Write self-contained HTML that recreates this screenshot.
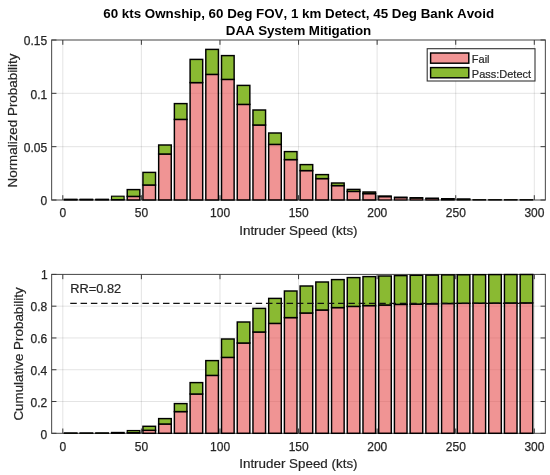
<!DOCTYPE html>
<html><head><meta charset="utf-8"><title>DAA System Mitigation</title>
<style>
html,body{margin:0;padding:0;background:#fff;}
body{width:550px;height:475px;overflow:hidden;}
svg{display:block;}
text{font-kerning:none;font-family:"Liberation Sans",sans-serif;fill:#262626;}
.t{font-size:12px;stroke:#262626;stroke-width:0.25px;}
.l{font-size:13.4px;stroke:#262626;stroke-width:0.2px;}
.r{font-size:12.8px;stroke:#262626;stroke-width:0.2px;}
.g{font-size:11px;stroke:#262626;stroke-width:0.2px;}
.h{font-size:13.35px;font-weight:bold;fill:#000;}
</style></head><body>
<svg width="550" height="475" viewBox="0 0 550 475">
<rect width="550" height="475" fill="#fff"/>
<line x1="62.8" y1="40" x2="62.8" y2="200" stroke="#262626" stroke-opacity="0.125" stroke-width="1"/>
<line x1="141.38" y1="40" x2="141.38" y2="200" stroke="#262626" stroke-opacity="0.125" stroke-width="1"/>
<line x1="219.97" y1="40" x2="219.97" y2="200" stroke="#262626" stroke-opacity="0.125" stroke-width="1"/>
<line x1="298.56" y1="40" x2="298.56" y2="200" stroke="#262626" stroke-opacity="0.125" stroke-width="1"/>
<line x1="377.14" y1="40" x2="377.14" y2="200" stroke="#262626" stroke-opacity="0.125" stroke-width="1"/>
<line x1="455.73" y1="40" x2="455.73" y2="200" stroke="#262626" stroke-opacity="0.125" stroke-width="1"/>
<line x1="534.31" y1="40" x2="534.31" y2="200" stroke="#262626" stroke-opacity="0.125" stroke-width="1"/>
<line x1="51.65" y1="146.67" x2="545.35" y2="146.67" stroke="#262626" stroke-opacity="0.125" stroke-width="1"/>
<line x1="51.65" y1="93.33" x2="545.35" y2="93.33" stroke="#262626" stroke-opacity="0.125" stroke-width="1"/>
<rect x="51.65" y="40" width="493.7" height="160" fill="none" stroke="#454545" stroke-width="1"/>
<line x1="62.8" y1="200" x2="62.8" y2="195.2" stroke="#3a3a3a" stroke-width="1"/>
<line x1="62.8" y1="40" x2="62.8" y2="44.8" stroke="#3a3a3a" stroke-width="1"/>
<line x1="141.38" y1="200" x2="141.38" y2="195.2" stroke="#3a3a3a" stroke-width="1"/>
<line x1="141.38" y1="40" x2="141.38" y2="44.8" stroke="#3a3a3a" stroke-width="1"/>
<line x1="219.97" y1="200" x2="219.97" y2="195.2" stroke="#3a3a3a" stroke-width="1"/>
<line x1="219.97" y1="40" x2="219.97" y2="44.8" stroke="#3a3a3a" stroke-width="1"/>
<line x1="298.56" y1="200" x2="298.56" y2="195.2" stroke="#3a3a3a" stroke-width="1"/>
<line x1="298.56" y1="40" x2="298.56" y2="44.8" stroke="#3a3a3a" stroke-width="1"/>
<line x1="377.14" y1="200" x2="377.14" y2="195.2" stroke="#3a3a3a" stroke-width="1"/>
<line x1="377.14" y1="40" x2="377.14" y2="44.8" stroke="#3a3a3a" stroke-width="1"/>
<line x1="455.73" y1="200" x2="455.73" y2="195.2" stroke="#3a3a3a" stroke-width="1"/>
<line x1="455.73" y1="40" x2="455.73" y2="44.8" stroke="#3a3a3a" stroke-width="1"/>
<line x1="534.31" y1="200" x2="534.31" y2="195.2" stroke="#3a3a3a" stroke-width="1"/>
<line x1="534.31" y1="40" x2="534.31" y2="44.8" stroke="#3a3a3a" stroke-width="1"/>
<line x1="51.65" y1="200" x2="56.45" y2="200" stroke="#3a3a3a" stroke-width="1"/>
<line x1="545.35" y1="200" x2="540.55" y2="200" stroke="#3a3a3a" stroke-width="1"/>
<line x1="51.65" y1="146.67" x2="56.45" y2="146.67" stroke="#3a3a3a" stroke-width="1"/>
<line x1="545.35" y1="146.67" x2="540.55" y2="146.67" stroke="#3a3a3a" stroke-width="1"/>
<line x1="51.65" y1="93.33" x2="56.45" y2="93.33" stroke="#3a3a3a" stroke-width="1"/>
<line x1="545.35" y1="93.33" x2="540.55" y2="93.33" stroke="#3a3a3a" stroke-width="1"/>
<line x1="51.65" y1="40" x2="56.45" y2="40" stroke="#3a3a3a" stroke-width="1"/>
<line x1="545.35" y1="40" x2="540.55" y2="40" stroke="#3a3a3a" stroke-width="1"/>
<g stroke="#000" stroke-width="1.45">
<rect x="64.36" y="199.6" width="12.6" height="0.4" fill="#e64d4d" fill-opacity="0.6" stroke-width="1.15"/>
<rect x="64.36" y="199.2" width="12.6" height="0.4" fill="#8aba32" stroke-width="1.15"/>
<rect x="80.08" y="199.6" width="12.6" height="0.4" fill="#e64d4d" fill-opacity="0.6" stroke-width="1.15"/>
<rect x="80.08" y="199.2" width="12.6" height="0.4" fill="#8aba32" stroke-width="1.15"/>
<rect x="95.79" y="199.6" width="12.6" height="0.4" fill="#e64d4d" fill-opacity="0.6" stroke-width="1.15"/>
<rect x="95.79" y="199.2" width="12.6" height="0.4" fill="#8aba32" stroke-width="1.15"/>
<rect x="111.51" y="199.6" width="12.6" height="0.4" fill="#e64d4d" fill-opacity="0.6" stroke-width="1.15"/>
<rect x="111.51" y="196.2" width="12.6" height="3.4" fill="#8aba32" stroke-width="1.15"/>
<rect x="127.23" y="196.4" width="12.6" height="3.6" fill="#e64d4d" fill-opacity="0.6"/>
<rect x="127.23" y="189.6" width="12.6" height="6.8" fill="#8aba32"/>
<rect x="142.94" y="185" width="12.6" height="15" fill="#e64d4d" fill-opacity="0.6"/>
<rect x="142.94" y="172.4" width="12.6" height="12.6" fill="#8aba32"/>
<rect x="158.66" y="154" width="12.6" height="46" fill="#e64d4d" fill-opacity="0.6"/>
<rect x="158.66" y="145" width="12.6" height="9" fill="#8aba32"/>
<rect x="174.38" y="119.4" width="12.6" height="80.6" fill="#e64d4d" fill-opacity="0.6"/>
<rect x="174.38" y="103.6" width="12.6" height="15.8" fill="#8aba32"/>
<rect x="190.09" y="82.6" width="12.6" height="117.4" fill="#e64d4d" fill-opacity="0.6"/>
<rect x="190.09" y="59.4" width="12.6" height="23.2" fill="#8aba32"/>
<rect x="205.81" y="74.4" width="12.6" height="125.6" fill="#e64d4d" fill-opacity="0.6"/>
<rect x="205.81" y="49.4" width="12.6" height="25" fill="#8aba32"/>
<rect x="221.53" y="79.4" width="12.6" height="120.6" fill="#e64d4d" fill-opacity="0.6"/>
<rect x="221.53" y="55.6" width="12.6" height="23.8" fill="#8aba32"/>
<rect x="237.25" y="104.4" width="12.6" height="95.6" fill="#e64d4d" fill-opacity="0.6"/>
<rect x="237.25" y="85.4" width="12.6" height="19" fill="#8aba32"/>
<rect x="252.96" y="125" width="12.6" height="75" fill="#e64d4d" fill-opacity="0.6"/>
<rect x="252.96" y="110" width="12.6" height="15" fill="#8aba32"/>
<rect x="268.68" y="144.4" width="12.6" height="55.6" fill="#e64d4d" fill-opacity="0.6"/>
<rect x="268.68" y="133" width="12.6" height="11.4" fill="#8aba32"/>
<rect x="284.4" y="159.6" width="12.6" height="40.4" fill="#e64d4d" fill-opacity="0.6"/>
<rect x="284.4" y="151.6" width="12.6" height="8" fill="#8aba32"/>
<rect x="300.11" y="170.6" width="12.6" height="29.4" fill="#e64d4d" fill-opacity="0.6"/>
<rect x="300.11" y="164.6" width="12.6" height="6" fill="#8aba32"/>
<rect x="315.83" y="178.6" width="12.6" height="21.4" fill="#e64d4d" fill-opacity="0.6"/>
<rect x="315.83" y="174.6" width="12.6" height="4" fill="#8aba32"/>
<rect x="331.55" y="185.6" width="12.6" height="14.4" fill="#e64d4d" fill-opacity="0.6"/>
<rect x="331.55" y="183" width="12.6" height="2.6" fill="#8aba32"/>
<rect x="347.26" y="191.4" width="12.6" height="8.6" fill="#e64d4d" fill-opacity="0.6"/>
<rect x="347.26" y="189.4" width="12.6" height="2" fill="#8aba32"/>
<rect x="362.98" y="193.6" width="12.6" height="6.4" fill="#e64d4d" fill-opacity="0.6"/>
<rect x="362.98" y="192" width="12.6" height="1.6" fill="#8aba32"/>
<rect x="378.7" y="196.7" width="12.6" height="3.3" fill="#e64d4d" fill-opacity="0.6" stroke-width="1.15"/>
<rect x="378.7" y="195.9" width="12.6" height="0.8" fill="#8aba32" stroke-width="1.15"/>
<rect x="394.42" y="197.7" width="12.6" height="2.3" fill="#e64d4d" fill-opacity="0.6" stroke-width="1.15"/>
<rect x="394.42" y="197.1" width="12.6" height="0.6" fill="#8aba32" stroke-width="1.15"/>
<rect x="410.13" y="198.1" width="12.6" height="1.9" fill="#e64d4d" fill-opacity="0.6" stroke-width="1.15"/>
<rect x="410.13" y="197.6" width="12.6" height="0.5" fill="#8aba32" stroke-width="1.15"/>
<rect x="425.85" y="198.5" width="12.6" height="1.5" fill="#e64d4d" fill-opacity="0.6" stroke-width="1.15"/>
<rect x="425.85" y="198.1" width="12.6" height="0.4" fill="#8aba32" stroke-width="1.15"/>
<rect x="441.57" y="198.9" width="12.6" height="1.1" fill="#e64d4d" fill-opacity="0.6" stroke-width="1.15"/>
<rect x="441.57" y="198.6" width="12.6" height="0.3" fill="#8aba32" stroke-width="1.15"/>
<rect x="457.28" y="199.2" width="12.6" height="0.8" fill="#e64d4d" fill-opacity="0.6" stroke-width="1.15"/>
<rect x="457.28" y="199" width="12.6" height="0.2" fill="#8aba32" stroke-width="1.15"/>
<rect x="473" y="199.8" width="12.6" height="0.2" fill="#e64d4d" fill-opacity="0.6" stroke-width="0.9"/>
<rect x="473" y="199.7" width="12.6" height="0.1" fill="#8aba32" stroke-width="0.9"/>
<rect x="488.72" y="199.8" width="12.6" height="0.2" fill="#e64d4d" fill-opacity="0.6" stroke-width="0.9"/>
<rect x="488.72" y="199.7" width="12.6" height="0.1" fill="#8aba32" stroke-width="0.9"/>
<rect x="504.43" y="199.8" width="12.6" height="0.2" fill="#e64d4d" fill-opacity="0.6" stroke-width="0.9"/>
<rect x="504.43" y="199.7" width="12.6" height="0.1" fill="#8aba32" stroke-width="0.9"/>
<rect x="520.15" y="199.8" width="12.6" height="0.2" fill="#e64d4d" fill-opacity="0.6" stroke-width="0.9"/>
<rect x="520.15" y="199.7" width="12.6" height="0.1" fill="#8aba32" stroke-width="0.9"/>
</g>
<text x="62.9" y="217.3" text-anchor="middle" class="t">0</text>
<text x="141.48" y="217.3" text-anchor="middle" class="t">50</text>
<text x="220.07" y="217.3" text-anchor="middle" class="t">100</text>
<text x="298.66" y="217.3" text-anchor="middle" class="t">150</text>
<text x="377.24" y="217.3" text-anchor="middle" class="t">200</text>
<text x="455.83" y="217.3" text-anchor="middle" class="t">250</text>
<text x="534.41" y="217.3" text-anchor="middle" class="t">300</text>
<text x="47.2" y="205.2" text-anchor="end" class="t">0</text>
<text x="47.2" y="151.87" text-anchor="end" class="t">0.05</text>
<text x="47.2" y="98.53" text-anchor="end" class="t">0.1</text>
<text x="47.2" y="45.2" text-anchor="end" class="t">0.15</text>
<text x="298.4" y="234.5" text-anchor="middle" class="l">Intruder Speed (kts)</text>
<text transform="translate(16.7,120.5) rotate(-90)" text-anchor="middle" class="l">Normalized Probability</text>
<line x1="62.8" y1="274.4" x2="62.8" y2="433.3" stroke="#262626" stroke-opacity="0.125" stroke-width="1"/>
<line x1="141.38" y1="274.4" x2="141.38" y2="433.3" stroke="#262626" stroke-opacity="0.125" stroke-width="1"/>
<line x1="219.97" y1="274.4" x2="219.97" y2="433.3" stroke="#262626" stroke-opacity="0.125" stroke-width="1"/>
<line x1="298.56" y1="274.4" x2="298.56" y2="433.3" stroke="#262626" stroke-opacity="0.125" stroke-width="1"/>
<line x1="377.14" y1="274.4" x2="377.14" y2="433.3" stroke="#262626" stroke-opacity="0.125" stroke-width="1"/>
<line x1="455.73" y1="274.4" x2="455.73" y2="433.3" stroke="#262626" stroke-opacity="0.125" stroke-width="1"/>
<line x1="534.31" y1="274.4" x2="534.31" y2="433.3" stroke="#262626" stroke-opacity="0.125" stroke-width="1"/>
<line x1="51.65" y1="401.52" x2="545.35" y2="401.52" stroke="#262626" stroke-opacity="0.125" stroke-width="1"/>
<line x1="51.65" y1="369.74" x2="545.35" y2="369.74" stroke="#262626" stroke-opacity="0.125" stroke-width="1"/>
<line x1="51.65" y1="337.96" x2="545.35" y2="337.96" stroke="#262626" stroke-opacity="0.125" stroke-width="1"/>
<line x1="51.65" y1="306.18" x2="545.35" y2="306.18" stroke="#262626" stroke-opacity="0.125" stroke-width="1"/>
<rect x="51.65" y="274.4" width="493.7" height="158.9" fill="none" stroke="#454545" stroke-width="1"/>
<line x1="62.8" y1="433.3" x2="62.8" y2="428.5" stroke="#3a3a3a" stroke-width="1"/>
<line x1="62.8" y1="274.4" x2="62.8" y2="279.2" stroke="#3a3a3a" stroke-width="1"/>
<line x1="141.38" y1="433.3" x2="141.38" y2="428.5" stroke="#3a3a3a" stroke-width="1"/>
<line x1="141.38" y1="274.4" x2="141.38" y2="279.2" stroke="#3a3a3a" stroke-width="1"/>
<line x1="219.97" y1="433.3" x2="219.97" y2="428.5" stroke="#3a3a3a" stroke-width="1"/>
<line x1="219.97" y1="274.4" x2="219.97" y2="279.2" stroke="#3a3a3a" stroke-width="1"/>
<line x1="298.56" y1="433.3" x2="298.56" y2="428.5" stroke="#3a3a3a" stroke-width="1"/>
<line x1="298.56" y1="274.4" x2="298.56" y2="279.2" stroke="#3a3a3a" stroke-width="1"/>
<line x1="377.14" y1="433.3" x2="377.14" y2="428.5" stroke="#3a3a3a" stroke-width="1"/>
<line x1="377.14" y1="274.4" x2="377.14" y2="279.2" stroke="#3a3a3a" stroke-width="1"/>
<line x1="455.73" y1="433.3" x2="455.73" y2="428.5" stroke="#3a3a3a" stroke-width="1"/>
<line x1="455.73" y1="274.4" x2="455.73" y2="279.2" stroke="#3a3a3a" stroke-width="1"/>
<line x1="534.31" y1="433.3" x2="534.31" y2="428.5" stroke="#3a3a3a" stroke-width="1"/>
<line x1="534.31" y1="274.4" x2="534.31" y2="279.2" stroke="#3a3a3a" stroke-width="1"/>
<line x1="51.65" y1="433.3" x2="56.45" y2="433.3" stroke="#3a3a3a" stroke-width="1"/>
<line x1="545.35" y1="433.3" x2="540.55" y2="433.3" stroke="#3a3a3a" stroke-width="1"/>
<line x1="51.65" y1="401.52" x2="56.45" y2="401.52" stroke="#3a3a3a" stroke-width="1"/>
<line x1="545.35" y1="401.52" x2="540.55" y2="401.52" stroke="#3a3a3a" stroke-width="1"/>
<line x1="51.65" y1="369.74" x2="56.45" y2="369.74" stroke="#3a3a3a" stroke-width="1"/>
<line x1="545.35" y1="369.74" x2="540.55" y2="369.74" stroke="#3a3a3a" stroke-width="1"/>
<line x1="51.65" y1="337.96" x2="56.45" y2="337.96" stroke="#3a3a3a" stroke-width="1"/>
<line x1="545.35" y1="337.96" x2="540.55" y2="337.96" stroke="#3a3a3a" stroke-width="1"/>
<line x1="51.65" y1="306.18" x2="56.45" y2="306.18" stroke="#3a3a3a" stroke-width="1"/>
<line x1="545.35" y1="306.18" x2="540.55" y2="306.18" stroke="#3a3a3a" stroke-width="1"/>
<line x1="51.65" y1="274.4" x2="56.45" y2="274.4" stroke="#3a3a3a" stroke-width="1"/>
<line x1="545.35" y1="274.4" x2="540.55" y2="274.4" stroke="#3a3a3a" stroke-width="1"/>
<g stroke="#000" stroke-width="1.45">
<rect x="64.36" y="433.2" width="12.6" height="0.1" fill="#e64d4d" fill-opacity="0.6" stroke-width="1.15"/>
<rect x="64.36" y="433" width="12.6" height="0.2" fill="#8aba32" stroke-width="1.15"/>
<rect x="80.08" y="433.2" width="12.6" height="0.1" fill="#e64d4d" fill-opacity="0.6" stroke-width="1.15"/>
<rect x="80.08" y="433" width="12.6" height="0.2" fill="#8aba32" stroke-width="1.15"/>
<rect x="95.79" y="433.15" width="12.6" height="0.15" fill="#e64d4d" fill-opacity="0.6" stroke-width="1.15"/>
<rect x="95.79" y="432.95" width="12.6" height="0.2" fill="#8aba32" stroke-width="1.15"/>
<rect x="111.51" y="433" width="12.6" height="0.3" fill="#e64d4d" fill-opacity="0.6" stroke-width="1.15"/>
<rect x="111.51" y="432.4" width="12.6" height="0.6" fill="#8aba32" stroke-width="1.15"/>
<rect x="127.23" y="432.4" width="12.6" height="0.9" fill="#e64d4d" fill-opacity="0.6" stroke-width="1.15"/>
<rect x="127.23" y="430.5" width="12.6" height="1.9" fill="#8aba32" stroke-width="1.15"/>
<rect x="142.94" y="430.3" width="12.6" height="3" fill="#e64d4d" fill-opacity="0.6"/>
<rect x="142.94" y="426.3" width="12.6" height="4" fill="#8aba32"/>
<rect x="158.66" y="424" width="12.6" height="9.3" fill="#e64d4d" fill-opacity="0.6"/>
<rect x="158.66" y="418.6" width="12.6" height="5.4" fill="#8aba32"/>
<rect x="174.38" y="411.6" width="12.6" height="21.7" fill="#e64d4d" fill-opacity="0.6"/>
<rect x="174.38" y="403.6" width="12.6" height="8" fill="#8aba32"/>
<rect x="190.09" y="394" width="12.6" height="39.3" fill="#e64d4d" fill-opacity="0.6"/>
<rect x="190.09" y="382.6" width="12.6" height="11.4" fill="#8aba32"/>
<rect x="205.81" y="375.4" width="12.6" height="57.9" fill="#e64d4d" fill-opacity="0.6"/>
<rect x="205.81" y="360.6" width="12.6" height="14.8" fill="#8aba32"/>
<rect x="221.53" y="357.4" width="12.6" height="75.9" fill="#e64d4d" fill-opacity="0.6"/>
<rect x="221.53" y="339" width="12.6" height="18.4" fill="#8aba32"/>
<rect x="237.25" y="343" width="12.6" height="90.3" fill="#e64d4d" fill-opacity="0.6"/>
<rect x="237.25" y="322" width="12.6" height="21" fill="#8aba32"/>
<rect x="252.96" y="332" width="12.6" height="101.3" fill="#e64d4d" fill-opacity="0.6"/>
<rect x="252.96" y="308.4" width="12.6" height="23.6" fill="#8aba32"/>
<rect x="268.68" y="323.4" width="12.6" height="109.9" fill="#e64d4d" fill-opacity="0.6"/>
<rect x="268.68" y="298.4" width="12.6" height="25" fill="#8aba32"/>
<rect x="284.4" y="317.6" width="12.6" height="115.7" fill="#e64d4d" fill-opacity="0.6"/>
<rect x="284.4" y="291" width="12.6" height="26.6" fill="#8aba32"/>
<rect x="300.11" y="313" width="12.6" height="120.3" fill="#e64d4d" fill-opacity="0.6"/>
<rect x="300.11" y="286" width="12.6" height="27" fill="#8aba32"/>
<rect x="315.83" y="310" width="12.6" height="123.3" fill="#e64d4d" fill-opacity="0.6"/>
<rect x="315.83" y="282" width="12.6" height="28" fill="#8aba32"/>
<rect x="331.55" y="307.6" width="12.6" height="125.7" fill="#e64d4d" fill-opacity="0.6"/>
<rect x="331.55" y="279.6" width="12.6" height="28" fill="#8aba32"/>
<rect x="347.26" y="306.4" width="12.6" height="126.9" fill="#e64d4d" fill-opacity="0.6"/>
<rect x="347.26" y="277.6" width="12.6" height="28.8" fill="#8aba32"/>
<rect x="362.98" y="305.6" width="12.6" height="127.7" fill="#e64d4d" fill-opacity="0.6"/>
<rect x="362.98" y="276.6" width="12.6" height="29" fill="#8aba32"/>
<rect x="378.7" y="305" width="12.6" height="128.3" fill="#e64d4d" fill-opacity="0.6"/>
<rect x="378.7" y="276" width="12.6" height="29" fill="#8aba32"/>
<rect x="394.42" y="304.4" width="12.6" height="128.9" fill="#e64d4d" fill-opacity="0.6"/>
<rect x="394.42" y="275.6" width="12.6" height="28.8" fill="#8aba32"/>
<rect x="410.13" y="304.1" width="12.6" height="129.2" fill="#e64d4d" fill-opacity="0.6"/>
<rect x="410.13" y="275.3" width="12.6" height="28.8" fill="#8aba32"/>
<rect x="425.85" y="303.8" width="12.6" height="129.5" fill="#e64d4d" fill-opacity="0.6"/>
<rect x="425.85" y="275.1" width="12.6" height="28.7" fill="#8aba32"/>
<rect x="441.57" y="303.5" width="12.6" height="129.8" fill="#e64d4d" fill-opacity="0.6"/>
<rect x="441.57" y="274.9" width="12.6" height="28.6" fill="#8aba32"/>
<rect x="457.28" y="303.3" width="12.6" height="130" fill="#e64d4d" fill-opacity="0.6"/>
<rect x="457.28" y="274.8" width="12.6" height="28.5" fill="#8aba32"/>
<rect x="473" y="303.2" width="12.6" height="130.1" fill="#e64d4d" fill-opacity="0.6"/>
<rect x="473" y="274.7" width="12.6" height="28.5" fill="#8aba32"/>
<rect x="488.72" y="303.1" width="12.6" height="130.2" fill="#e64d4d" fill-opacity="0.6"/>
<rect x="488.72" y="274.6" width="12.6" height="28.5" fill="#8aba32"/>
<rect x="504.43" y="303" width="12.6" height="130.3" fill="#e64d4d" fill-opacity="0.6"/>
<rect x="504.43" y="274.55" width="12.6" height="28.45" fill="#8aba32"/>
<rect x="520.15" y="302.9" width="12.6" height="130.4" fill="#e64d4d" fill-opacity="0.6"/>
<rect x="520.15" y="274.5" width="12.6" height="28.4" fill="#8aba32"/>
</g>
<text x="62.9" y="451" text-anchor="middle" class="t">0</text>
<text x="141.48" y="451" text-anchor="middle" class="t">50</text>
<text x="220.07" y="451" text-anchor="middle" class="t">100</text>
<text x="298.66" y="451" text-anchor="middle" class="t">150</text>
<text x="377.24" y="451" text-anchor="middle" class="t">200</text>
<text x="455.83" y="451" text-anchor="middle" class="t">250</text>
<text x="534.41" y="451" text-anchor="middle" class="t">300</text>
<text x="47.3" y="438.5" text-anchor="end" class="t">0</text>
<text x="47.3" y="406.72" text-anchor="end" class="t">0.2</text>
<text x="47.3" y="374.94" text-anchor="end" class="t">0.4</text>
<text x="47.3" y="343.16" text-anchor="end" class="t">0.6</text>
<text x="47.3" y="311.38" text-anchor="end" class="t">0.8</text>
<text x="47.7" y="279" text-anchor="end" class="t">1</text>
<text x="298.4" y="467.6" text-anchor="middle" class="l">Intruder Speed (kts)</text>
<text transform="translate(23.3,354) rotate(-90)" text-anchor="middle" class="l">Cumulative Probability</text>
<line x1="70.26" y1="303.4" x2="526.45" y2="303.4" stroke="#111" stroke-width="1.1" stroke-dasharray="6.5 3.8"/>
<text x="70.3" y="292.5" class="r">RR=0.82</text>
<rect x="427.2" y="48.7" width="107.8" height="32.3" fill="#fff" stroke="#333" stroke-width="1.1"/>
<rect x="430.6" y="53" width="38.2" height="10.2" fill="#f09494" stroke="#000" stroke-width="1.45"/>
<rect x="430.6" y="67.6" width="38.2" height="10.2" fill="#8aba32" stroke="#000" stroke-width="1.45"/>
<text x="471.8" y="63" class="g">Fail</text>
<text x="471.8" y="77.6" class="g">Pass:Detect</text>
<text x="298.7" y="17.8" text-anchor="middle" class="h">60 kts Ownship, 60 Deg FOV, 1 km Detect, 45 Deg Bank Avoid</text>
<text x="298.5" y="34.85" text-anchor="middle" class="h" letter-spacing="-0.07">DAA System Mitigation</text>
</svg>
</body></html>
